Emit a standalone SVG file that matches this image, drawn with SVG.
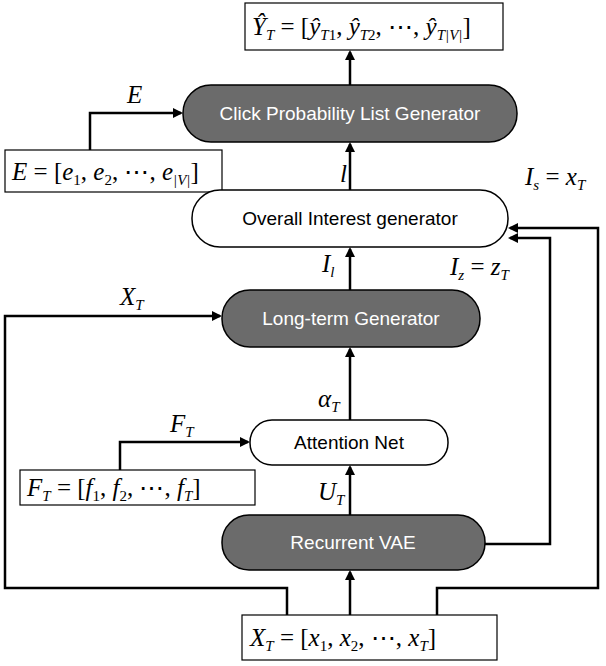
<svg xmlns="http://www.w3.org/2000/svg" width="606" height="666" viewBox="0 0 606 666">
<style>
.dark{fill:#6b6b6b;stroke:#000;stroke-width:1.5}
.light{fill:#fff;stroke:#000;stroke-width:1.5}
.box{fill:#fff;stroke:#000;stroke-width:1.2}
.lt{font-family:"Liberation Sans",Arial,sans-serif;font-size:19px;text-anchor:middle}
.m{font-family:"Liberation Serif","Times New Roman",serif;font-size:25px;font-style:italic}
.s{font-size:15px}
.u{font-style:normal}
.c{fill:none;stroke:#000;stroke-width:2.5}
</style>
<defs><marker id="a" markerWidth="10" markerHeight="10" refX="8" refY="5" orient="auto" markerUnits="userSpaceOnUse"><path d="M0,0 L10,5 L0,10 z"/></marker></defs>
<g id="connectors">
<path class="c" d="M350,85 V52" marker-end="url(#a)"/>
<path class="c" d="M90,150 V113 H181" marker-end="url(#a)"/>
<path class="c" d="M350,190 V144" marker-end="url(#a)"/>
<path class="c" d="M350,290 V249" marker-end="url(#a)"/>
<path class="c" d="M350,420 V349" marker-end="url(#a)"/>
<path class="c" d="M120,470 V442 H248" marker-end="url(#a)"/>
<path class="c" d="M350,515 V467" marker-end="url(#a)"/>
<path class="c" d="M350,615 V572" marker-end="url(#a)"/>
<path class="c" d="M287,615 V588 H5 V316 H220" marker-end="url(#a)"/>
<path class="c" d="M437,615 V588 H598 V228 H510" marker-end="url(#a)"/>
<path class="c" d="M485,544 H550 V238 H510" marker-end="url(#a)"/>
</g>
<g id="yhat"><rect class="box" x="245" y="3" width="258" height="47"/>
<text class="m" x="252" y="35">Ŷ<tspan class="s" dy="5">T</tspan><tspan class="u" dy="-5"> = [</tspan>ŷ<tspan class="s" dy="5">T<tspan class="u">1</tspan></tspan><tspan class="u" dy="-5">, </tspan>ŷ<tspan class="s" dy="5">T<tspan class="u">2</tspan></tspan><tspan class="u" dy="-5">, ⋯, </tspan>ŷ<tspan class="s" dy="5">T|V|</tspan><tspan class="u" dy="-5">]</tspan></text></g>
<g id="click"><rect class="dark" x="183" y="85" width="334" height="57" rx="28"/><text class="lt" x="350" y="120" fill="#fff">Click Probability List Generator</text></g>
<g id="ebox"><rect class="box" x="5" y="150" width="217" height="42"/>
<text class="m" x="12" y="180">E<tspan class="u"> = [</tspan>e<tspan class="s u" dy="5">1</tspan><tspan class="u" dy="-5">, </tspan>e<tspan class="s u" dy="5">2</tspan><tspan class="u" dy="-5">, ⋯, </tspan>e<tspan class="s" dy="5">|V|</tspan><tspan class="u" dy="-5">]</tspan></text></g>
<text class="m" x="127" y="103">E</text>
<text class="m" x="340" y="182">l</text>
<g id="overall"><rect class="light" x="192" y="190" width="316" height="57" rx="28"/><text class="lt" x="350" y="225">Overall Interest generator</text></g>
<text class="m" x="525" y="185">I<tspan class="s" dy="5">s</tspan><tspan class="u" dy="-5"> = </tspan>x<tspan class="s" dy="5">T</tspan></text>
<text class="m" x="450" y="275">I<tspan class="s" dy="5">z</tspan><tspan class="u" dy="-5"> = </tspan>z<tspan class="s" dy="5">T</tspan></text>
<text class="m" x="322" y="272">I<tspan class="s" dy="5">l</tspan></text>
<text class="m" x="120" y="305">X<tspan class="s" dy="5">T</tspan></text>
<g id="longterm"><rect class="dark" x="222" y="290" width="258" height="57" rx="28"/><text class="lt" x="351" y="325" fill="#fff">Long-term Generator</text></g>
<text class="m" x="318" y="407">α<tspan class="s" dy="5">T</tspan></text>
<g id="attention"><rect class="light" x="250" y="420" width="198" height="45" rx="22"/><text class="lt" x="349" y="449">Attention Net</text></g>
<text class="m" x="170" y="432">F<tspan class="s" dy="5">T</tspan></text>
<g id="fbox"><rect class="box" x="20" y="470" width="235" height="35"/>
<text class="m" x="27" y="496">F<tspan class="s" dy="5">T</tspan><tspan class="u" dy="-5"> = [</tspan>f<tspan class="s u" dy="5">1</tspan><tspan class="u" dy="-5">, </tspan>f<tspan class="s u" dy="5">2</tspan><tspan class="u" dy="-5">, ⋯, </tspan>f<tspan class="s" dy="5">T</tspan><tspan class="u" dy="-5">]</tspan></text></g>
<text class="m" x="318" y="500">U<tspan class="s" dy="5">T</tspan></text>
<g id="vae"><rect class="dark" x="222" y="515" width="263" height="55" rx="27"/><text class="lt" x="353" y="549" fill="#fff">Recurrent VAE</text></g>
<g id="xbox"><rect class="box" x="242" y="615" width="255" height="45"/>
<text class="m" x="250" y="646">X<tspan class="s" dy="5">T</tspan><tspan class="u" dy="-5"> = [</tspan>x<tspan class="s u" dy="5">1</tspan><tspan class="u" dy="-5">, </tspan>x<tspan class="s u" dy="5">2</tspan><tspan class="u" dy="-5">, ⋯, </tspan>x<tspan class="s" dy="5">T</tspan><tspan class="u" dy="-5">]</tspan></text></g>
</svg>
